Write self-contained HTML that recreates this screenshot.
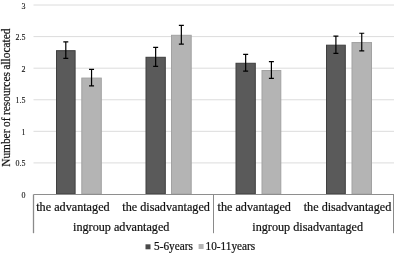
<!DOCTYPE html>
<html><head><meta charset="utf-8"><title>chart</title>
<style>
html,body{margin:0;padding:0;background:#fff;}
svg{display:block;filter:blur(0.35px)}
text{font-family:"Liberation Serif",serif;fill:#111;stroke:#111;stroke-width:0.22px;}
text.t{stroke-width:0.1px;}
</style></head><body>
<svg width="400" height="257" viewBox="0 0 400 257">
<rect width="400" height="257" fill="#fff"/>

<line x1="33.5" x2="394.0" y1="162.92" y2="162.92" stroke="#dcdcdc" stroke-width="1"/>
<line x1="33.5" x2="394.0" y1="131.34" y2="131.34" stroke="#dcdcdc" stroke-width="1"/>
<line x1="33.5" x2="394.0" y1="99.76" y2="99.76" stroke="#dcdcdc" stroke-width="1"/>
<line x1="33.5" x2="394.0" y1="68.18" y2="68.18" stroke="#dcdcdc" stroke-width="1"/>
<line x1="33.5" x2="394.0" y1="36.60" y2="36.60" stroke="#dcdcdc" stroke-width="1"/>
<line x1="33.5" x2="394.0" y1="5.02" y2="5.02" stroke="#dcdcdc" stroke-width="1"/>
<text class="t" transform="translate(25.50,197.60) scale(0.9300,1)" font-size="8.6" text-anchor="end">0</text>
<text class="t" transform="translate(25.50,166.10) scale(0.9300,1)" font-size="8.6" text-anchor="end">0.5</text>
<text class="t" transform="translate(25.50,134.60) scale(0.9300,1)" font-size="8.6" text-anchor="end">1</text>
<text class="t" transform="translate(25.50,103.10) scale(0.9300,1)" font-size="8.6" text-anchor="end">1.5</text>
<text class="t" transform="translate(25.50,71.60) scale(0.9300,1)" font-size="8.6" text-anchor="end">2</text>
<text class="t" transform="translate(25.50,40.10) scale(0.9300,1)" font-size="8.6" text-anchor="end">2.5</text>
<text class="t" transform="translate(25.50,8.60) scale(0.9300,1)" font-size="8.6" text-anchor="end">3</text>
<rect x="56.50" y="50.67" width="18.60" height="143.33" fill="#5a5a5a" stroke="#3f3f3f" stroke-width="1"/>
<rect x="81.80" y="78.08" width="19.50" height="115.92" fill="#b4b4b4" stroke="#a2a2a2" stroke-width="1"/>
<rect x="146.00" y="57.29" width="19.30" height="136.71" fill="#5a5a5a" stroke="#3f3f3f" stroke-width="1"/>
<rect x="171.50" y="35.30" width="19.70" height="158.70" fill="#b4b4b4" stroke="#a2a2a2" stroke-width="1"/>
<rect x="236.00" y="63.27" width="19.30" height="130.73" fill="#5a5a5a" stroke="#3f3f3f" stroke-width="1"/>
<rect x="262.00" y="70.52" width="18.80" height="123.48" fill="#b4b4b4" stroke="#a2a2a2" stroke-width="1"/>
<rect x="326.50" y="45.19" width="18.80" height="148.81" fill="#5a5a5a" stroke="#3f3f3f" stroke-width="1"/>
<rect x="352.00" y="42.54" width="19.50" height="151.46" fill="#b4b4b4" stroke="#a2a2a2" stroke-width="1"/>
<path d="M65.80 41.87V58.47M63.30 41.87h5M63.30 58.47h5" stroke="#000" stroke-width="1.2" fill="none"/>
<path d="M91.55 69.38V85.78M89.05 69.38h5M89.05 85.78h5" stroke="#000" stroke-width="1.2" fill="none"/>
<path d="M155.65 47.29V66.29M153.15 47.29h5M153.15 66.29h5" stroke="#000" stroke-width="1.2" fill="none"/>
<path d="M181.35 25.40V44.20M178.85 25.40h5M178.85 44.20h5" stroke="#000" stroke-width="1.2" fill="none"/>
<path d="M245.65 54.47V71.07M243.15 54.47h5M243.15 71.07h5" stroke="#000" stroke-width="1.2" fill="none"/>
<path d="M271.40 61.62V78.42M268.90 61.62h5M268.90 78.42h5" stroke="#000" stroke-width="1.2" fill="none"/>
<path d="M335.90 36.09V53.29M333.40 36.09h5M333.40 53.29h5" stroke="#000" stroke-width="1.2" fill="none"/>
<path d="M361.75 33.24V50.84M359.25 33.24h5M359.25 50.84h5" stroke="#000" stroke-width="1.2" fill="none"/>
<line x1="33.5" x2="394.0" y1="194.5" y2="194.5" stroke="#8e8e8e" stroke-width="1"/>
<line x1="33.5" x2="33.5" y1="194.5" y2="233.2" stroke="#8a8a8a" stroke-width="1.3"/>
<line x1="213.5" x2="213.5" y1="194.5" y2="233.2" stroke="#8a8a8a" stroke-width="1"/>
<line x1="393.5" x2="393.5" y1="194.5" y2="233.2" stroke="#8a8a8a" stroke-width="1"/>
<text transform="translate(36.20,211.00) scale(0.9680,1)" font-size="12.6">the advantaged</text>
<text transform="translate(122.30,211.00) scale(0.9680,1)" font-size="12.6">the disadvantaged</text>
<text transform="translate(217.50,211.00) scale(0.9680,1)" font-size="12.6">the advantaged</text>
<text transform="translate(303.70,211.00) scale(0.9680,1)" font-size="12.6">the disadvantaged</text>
<text transform="translate(73.00,230.50) scale(0.9680,1)" font-size="12.6">ingroup advantaged</text>
<text transform="translate(252.30,230.50) scale(0.9680,1)" font-size="12.6">ingroup disadvantaged</text>
<text word-spacing="-0.3" transform="translate(10.10,97.70) rotate(-90) scale(0.9550,1)" font-size="11.9" text-anchor="middle">Number of resources allocated</text>
<rect x="145.5" y="244.3" width="5" height="5" fill="#4a4a4a"/>
<text transform="translate(154.00,250.00) scale(0.9260,1)" font-size="12.2">5-6years</text>
<rect x="198.6" y="244" width="5" height="5" fill="#b4b4b4"/>
<text transform="translate(205.50,250.00) scale(0.9260,1)" font-size="12.2">10-11years</text>
</svg></body></html>
